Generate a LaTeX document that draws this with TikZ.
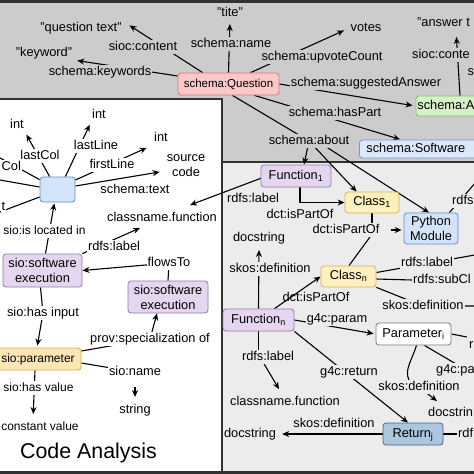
\documentclass[tikz,border=0pt]{standalone}
\usepackage{fontspec}
\setmainfont{Liberation Sans}
\usetikzlibrary{arrows.meta,calc}
\pgfdeclarelayer{back}
\pgfdeclarelayer{edges}
\pgfsetlayers{back,edges,main}
\definecolor{bgT}{RGB}{204,204,204}
\definecolor{bgR}{RGB}{236,236,236}
\definecolor{frameC}{RGB}{50,50,50}
\definecolor{qF}{RGB}{250,200,200}\definecolor{qD}{RGB}{215,120,120}
\definecolor{aF}{RGB}{214,240,200}\definecolor{aD}{RGB}{130,190,110}
\definecolor{sF}{RGB}{218,232,250}\definecolor{sD}{RGB}{120,150,200}
\definecolor{fF}{RGB}{228,214,238}\definecolor{fD}{RGB}{150,120,175}
\definecolor{cF}{RGB}{253,240,190}\definecolor{cD}{RGB}{215,180,80}
\definecolor{pmF}{RGB}{212,228,248}\definecolor{pmD}{RGB}{100,140,200}
\definecolor{rF}{RGB}{172,198,222}\definecolor{rD}{RGB}{70,100,135}
\definecolor{pF}{RGB}{253,230,180}\definecolor{pD}{RGB}{220,170,70}
\definecolor{wD}{RGB}{120,120,120}
\newcommand\fs{\fontsize{12.8}{15}\selectfont}
\newcommand\fss{\fontsize{12}{14}\selectfont}
\begin{document}
\begin{tikzpicture}[x=1pt,y=-1pt,
 nbox/.style={draw, rounded corners=3pt, line width=0.8pt, inner sep=0pt, font=\fs, align=center},
 oneline/.style={text height=9pt, text depth=2.5pt},
 txt/.style={font=\fs, inner sep=1pt, oneline},
 lT/.style={txt, fill=bgT},
 lR/.style={txt, fill=bgR},
 lW/.style={txt, fill=white},
 arr/.style={line width=1.1pt, -{Stealth[length=7pt,width=6pt]}},
 ln/.style={line width=1.1pt},
]
\useasboundingbox (0,0) rectangle (474,474);
\begin{pgfonlayer}{back}
\fill[bgT] (0,0) rectangle (474,474);
\fill[white] (0,99) rectangle (222,471);
\fill[bgR] (222,162) rectangle (474,471);
\draw[frameC, line width=2pt] (0,99) -- (222,99) -- (222,471);
\draw[frameC, line width=2pt] (222,162) -- (474,162);
\fill[frameC] (0,0) rectangle (474,3);
\fill[frameC] (0,471) rectangle (474,474);
\end{pgfonlayer}

% ---- boxes
\node[nbox, fill=qF, draw=qD, minimum width=101pt, minimum height=22pt, font=\fontsize{11.5}{14}\selectfont, oneline] (Q) at (228.5,84) {schema:Question};
\node[nbox, fill=aF, draw=aD, anchor=west, minimum height=20pt, inner xsep=1.5pt, text width=100pt, align=left, oneline] (A) at (415.5,106) {schema:A};
\node[nbox, fill=sF, draw=sD, anchor=west, minimum height=18pt, inner xsep=7pt, text width=130pt, align=left, oneline] (SSC) at (359,149) {schema:Software};
\node[nbox, fill=fF, draw=fD, minimum width=70pt, minimum height=22pt, oneline] (F1) at (296,176) {Function\textsubscript{1}};
\node[nbox, fill=cF, draw=cD, minimum width=54pt, minimum height=21pt, oneline] (C1) at (372,202.5) {Class\textsubscript{1}};
\node[nbox, fill=pmF, draw=pmD, minimum width=54pt, minimum height=31pt] (PM) at (431,228.5) {Python\\Module};
\node[nbox, fill=cF, draw=cD, minimum width=55pt, minimum height=21pt, oneline] (Cn) at (348.5,276.5) {Class\textsubscript{n}};
\node[nbox, fill=fF, draw=fD, minimum width=71pt, minimum height=22pt, oneline] (Fn) at (258.5,320) {Function\textsubscript{n}};
\node[nbox, fill=white, draw=wD, minimum width=75pt, minimum height=22pt, oneline] (Pi) at (413.5,334) {Parameter\textsubscript{i}};
\node[nbox, fill=rF, draw=rD, minimum width=60pt, minimum height=22pt, oneline] (Rj) at (413,434) {Return\textsubscript{j}};
\node[nbox, fill=pmF, draw=pmD, minimum width=35pt, minimum height=25pt] (bx) at (57.5,189.5) {};
\node[nbox, fill=fF, draw=fD, minimum width=79pt, minimum height=33pt] (sw1) at (42.5,270.5) {sio:software\\execution};
\node[nbox, fill=fF, draw=fD, minimum width=80pt, minimum height=32pt] (sw2) at (168,297) {sio:software\\execution};
\node[nbox, fill=pF, draw=pD, minimum width=86pt, minimum height=22pt, font=\fss, oneline] (par) at (38,359) {sio:parameter};

% ---- value texts
\node[txt] (tite) at (230,13) {"tite"};
\node[txt] (qtext) at (81,28) {"question text"};
\node[txt] (kw) at (44,53) {"keyword"};
\node[txt] (votes) at (366,28) {votes};
\node[txt, anchor=west] (atext) at (416,23) {"answer t};
\node[txt] (docF) at (259,238) {docstring};
\node[txt] (cnR) at (285,402) {classname.function};
\node[txt, anchor=west] (docP) at (427,413) {docstrin};
\node[txt] (docR) at (250,434) {docstring};
\node[txt] (int1) at (17,125) {int};
\node[txt] (int2) at (99,115) {int};
\node[txt] (int3) at (161,138) {int};
\node[font=\fs, align=center, inner sep=1pt] (src) at (186,166) {source\\code};
\node[txt] (cnL) at (162,218) {classname.function};
\node[txt] (str) at (135,410) {string};
\node[txt, font=\fss] (cv) at (40,427) {constant value};
\node[font=\fontsize{21.4}{24}\selectfont] (title) at (88.5,453) {Code Analysis};

% ---- edge labels
\node[lT] (about) at (309,141) {schema:about};
\node[lT] (lcont) at (143,47) {sioc:content};
\node[lT] (lkw) at (100,72) {schema:keywords};
\node[lT] (lname) at (231,44) {schema:name};
\node[lT] (lup) at (322,57) {schema:upvoteCount};
\node[lT] (lsug) at (366,83) {schema:suggestedAnswer};
\node[lT] (lhas) at (335,113) {schema:hasPart};
\node[lT, anchor=west] (lacont) at (411,55) {sioc:conte};
\node[lT, anchor=west] (las) at (466.5,72) {s};

\node[lR] (skF) at (270,269) {skos:definition};
\node[lR] (rlF1) at (253,199) {rdfs:label};
\node[lR] (dp1) at (300,215) {dct:isPartOf};
\node[lR] (hub) at (346,230) {dct:isPartOf};
\node[txt] (dp3) at (316,298) {dct:isPartOf};
\node[lR, anchor=west] (rlPM) at (451,201) {rdfs};
\node[lR] (rlC) at (427,263) {rdfs:label};
\node[lR, anchor=west] (sub) at (412,280) {rdfs:subCl};
\node[lR] (skC) at (423,306) {skos:definition};
\node[lR] (g4p) at (337,319) {g4c:param};
\node[lR, anchor=west] (g4pt) at (435,370) {g4c:pa};
\node[lR, anchor=west] (rlP) at (468,345) {r};
\node[lR] (skP) at (419,387) {skos:definition};
\node[lR] (g4r) at (349,372) {g4c:return};
\node[lR] (rfl) at (268,357) {rdfs:label};
\node[lR] (skR) at (334,424) {skos:definition};
\node[lR, anchor=west] (rlR) at (457,434) {rdf};

\node[lW] (llc) at (40,156) {lastCol};
\node[lW] (lll) at (96,146) {lastLine};
\node[lW] (lfl) at (112,165) {firstLine};
\node[lW] (lst) at (135,190) {schema:text};
\node[lW, anchor=west] (lfc) at (0.5,167) {Col};
\node[lW, anchor=west] (lt) at (0.5,207) {t};
\node[lW] (lrl) at (114,247) {rdfs:label};
\node[lW, font=\fss] (lloc) at (44.5,231) {sio:is located in};
\node[lW] (flw) at (169,263) {flowsTo};
\node[lW] (hin) at (43,313) {sio:has input};
\node[lW] (prov) at (150,339) {prov:specialization of};
\node[lW] (sion) at (135,372) {sio:name};
\node[lW, font=\fss] (hv) at (38.5,388) {sio:has value};

% ---- off-picture ends
\coordinate (oCnL) at (500,250.5);
\coordinate (oCnD) at (500,306);
\coordinate (oPM) at (490,166);
\coordinate (oPg) at (480,378);
\coordinate (oL1) at (-20,147);
\coordinate (oL2) at (-20,176.5);
\coordinate (oL3) at (-20,219.5);

\begin{pgfonlayer}{edges}
% top
\draw[arr, shorten >=4pt] (Q.north) -- (tite.south);
\draw[arr, shorten >=8pt] ($(Q.north west)+(25,0)$) -- (qtext.north east);
\draw[arr, shorten >=4pt] ($(Q.west)+(0,-8)$) -- (kw.south east);
\draw[arr, shorten >=6pt] ($(Q.north west)+(73,0)$) -- (votes.west);
\draw[arr, shorten >=3pt] (Q.east) -- (A.west);
\draw[arr, shorten >=1pt] ($(Q.south east)+(-25,0)$) -- ($(SSC.north west)+(42,0)$);
\draw[arr, shorten >=7pt] ($(A.north west)+(44.5,0)$) -- ($(atext.south west)+(40,0)$);
\draw[ln] ($(Q.south)+(4,0)$) -- (about.center);
\draw[arr] (about.center) -- ($(F1.north)+(8,0)$);
\draw[arr] (about.center) -- ($(C1.north west)+(12,0)$);
\draw[arr] ($(about.center)+(8,0)$) -- ($(PM.north)+(-2,0)$);
% lower right
\draw[arr] ($(F1.west)+(1,2)$) -- ($(cnL.north)+(28,-6)$);
\draw[arr] ($(F1.south)+(4,0)$) |- (C1.west);
\draw[ln] (C1.south) -- (C1.south |- hub.north);
\draw[ln] ($(Cn.north)+(0.5,0)$) -- ($(hub.south)+(24,0)$);
\draw[arr, shorten <=10pt, shorten >=2pt] (hub.east) -- (hub.east -| PM.west);
\draw[arr] ($(Fn.north)+(16,0)$) -- (Cn.west);
\draw[arr, shorten >=5pt] (Fn.north) -- (docF.south);
\draw[ln] ($(Cn.east)+(0,-4)$) -- (oCnL);
\draw[ln] ($(Cn.east)+(0,2.5)$) -- (sub.west);
\draw[ln] (Cn.south east) -- (skC.center) -- (oCnD);
\draw[ln] ($(PM.north east)+(-9,0)$) -- (oPM);
\draw[arr, shorten >=2pt] (Fn.east) -- (Pi.west);
\draw[arr] (Fn.south east) -- ($(Rj.north)+(-5,0)$);
\draw[ln] (Fn.south) -- (Fn.south |- rfl.north);
\draw[arr] ($(rfl.center)+(-8,0)$) -- ($(cnR.north)+(-6,-6)$);
\draw[ln] ($(Pi.south)+(3,0)$) .. controls (412,360) and (404,370) .. ($(skP.north)+(-10,0)$);
\draw[arr] (skP.center) -- ($(docP.north west)+(10,-5)$);
\draw[ln] (Pi.east) -- ($(rlP.west)+(-1,-8)$);
\draw[ln] ($(Pi.south east)+(-27,0)$) -- (oPg);
\draw[arr, shorten >=5pt] (Rj.west) -- (docR.east);
\draw[ln] (Rj.east) -- (rlR.west);
% left panel
\draw[arr, shorten >=3pt] ($(bx.north west)+(10,0)$) -- (int1.south east);
\draw[arr, shorten >=3pt] ($(bx.north east)+(-10,0)$) -- (int2.south west);
\draw[arr, shorten >=7pt] ($(bx.east)+(0,-9.5)$) -- (int3.south west);
\draw[arr] ($(bx.east)+(0,-3.5)$) -- ($(src.west)+(-6,6)$);
\draw[ln] ($(bx.north west)+(0,3)$) -- (oL1);
\draw[ln] ($(bx.west)+(0,-2.5)$) -- (oL2);
\draw[ln] ($(bx.west)+(0,7.5)$) -- (oL3);
\draw[arr, shorten >=1pt] ($(sw1.north)+(3,0)$) -- ($(bx.south)+(-3,0)$);
\draw[arr] (sw1.north east) -- ($(cnL.south west)+(34,3)$);
\draw[arr] (sw2.north) -- (flw.center) -- (sw1.east);
\draw[arr, shorten >=2pt] ($(sw1.south)+(-2,0)$) -- (hin.center) -- ($(par.north)+(-1,0)$);
\draw[arr] ($(par.east)+(0,-8)$) -- (prov.center) -- ($(sw2.south)+(-11,0)$);
\draw[ln] ($(par.east)+(0,4)$) -- (sion.center);
\draw[arr, shorten <=8pt, shorten >=6pt] (sion.south) -- (str.north);
\draw[arr, shorten >=6pt] ($(par.south)+(-3,0)$) -- ($(cv.north)+(-7,0)$);
\end{pgfonlayer}
\end{tikzpicture}
\end{document}
